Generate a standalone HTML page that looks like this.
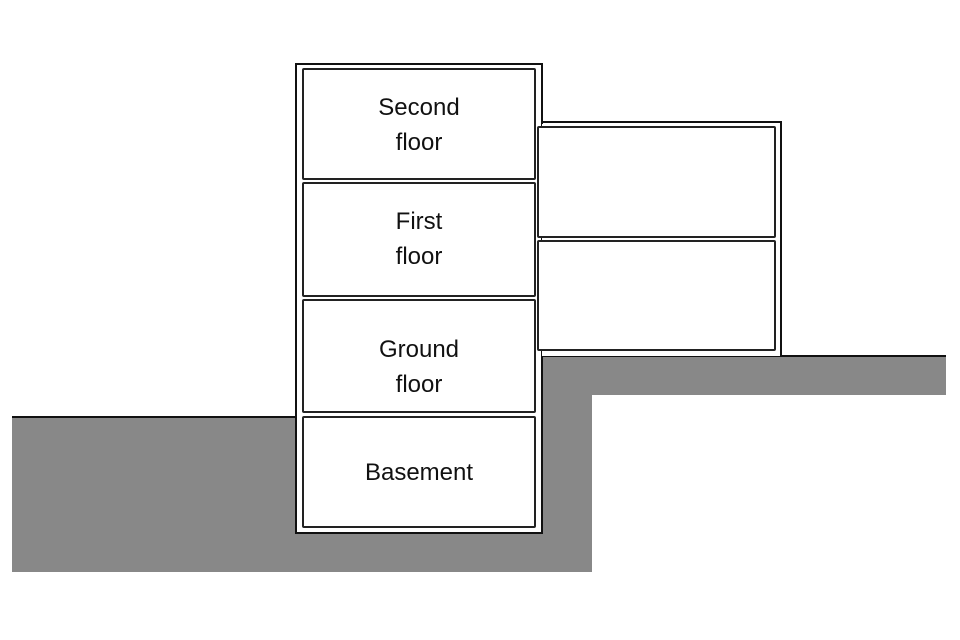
<!DOCTYPE html>
<html><head><meta charset="utf-8"><style>
html,body{margin:0;padding:0;background:#fff;width:960px;height:640px;overflow:hidden}
text{font-family:"Liberation Sans",sans-serif;font-size:24px;fill:#111;text-anchor:middle}
</style></head><body>
<svg width="960" height="640" viewBox="0 0 960 640" xmlns="http://www.w3.org/2000/svg">
<!-- ground -->
<path d="M12 417 H296 V533 H543 V357 H946 V395 H592 V572 H12 Z" fill="#888"/>
<line x1="12" y1="417" x2="296" y2="417" stroke="#111" stroke-width="2"/>
<line x1="543" y1="356" x2="946" y2="356" stroke="#111" stroke-width="2"/>
<!-- main building outer -->
<rect x="296" y="64" width="246" height="469" fill="#fff" stroke="#111" stroke-width="2"/>
<!-- annex outer -->
<path d="M542 122 H781 V356" fill="none" stroke="#111" stroke-width="2"/>
<rect x="542" y="124" width="238" height="232" fill="#fff"/>
<line x1="542" y1="122" x2="781" y2="122" stroke="#111" stroke-width="2"/>
<line x1="781" y1="122" x2="781" y2="356" stroke="#111" stroke-width="2"/>
<!-- rooms -->
<g fill="#fff" stroke="#222" stroke-width="2">
<rect x="303" y="69" width="232" height="110" rx="1"/>
<rect x="303" y="183" width="232" height="113" rx="1"/>
<rect x="303" y="300" width="232" height="112" rx="1"/>
<rect x="303" y="417" width="232" height="110" rx="1"/>
<rect x="538" y="127" width="237" height="110" rx="1"/>
<rect x="538" y="241" width="237" height="109" rx="1"/>
</g>
<text x="419" y="115">Second</text>
<text x="419" y="150">floor</text>
<text x="419" y="229">First</text>
<text x="419" y="264">floor</text>
<text x="419" y="357">Ground</text>
<text x="419" y="392">floor</text>
<text x="419" y="480">Basement</text>
</svg>
</body></html>
